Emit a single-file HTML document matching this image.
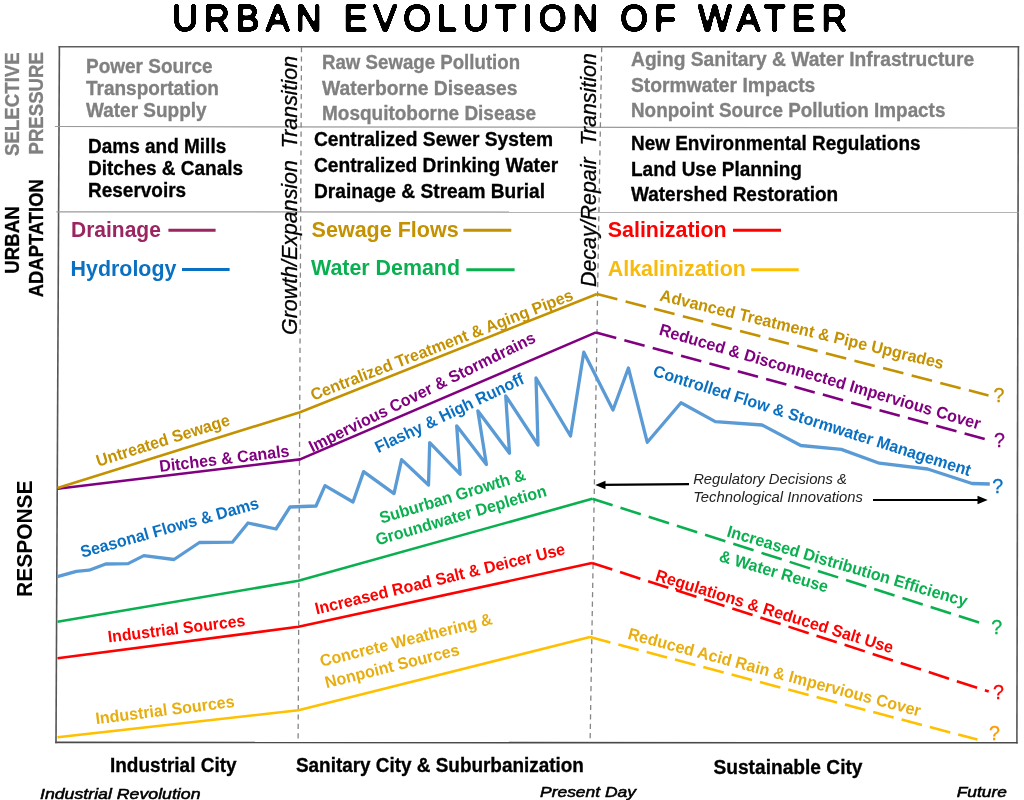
<!DOCTYPE html>
<html lang="en">
<head>
<meta charset="utf-8">
<title>Urban Evolution of Water</title>
<style>
  html, body { margin: 0; padding: 0; background: #ffffff; }
  body { width: 1024px; height: 800px; overflow: hidden; }
  svg { display: block; }
  text { font-family: "Liberation Sans", Arial, Helvetica, sans-serif; }
  .b { font-weight: bold; }
  .i { font-style: italic; }
  .tbl { font-size: 19px; font-weight: bold; stroke: #000; stroke-width: 0.3px; }
  .leg { font-size: 21px; font-weight: bold; }
  .lab { font-size: 16.05px; font-weight: bold; }
  .q { font-size: 19.6px; }
  .gray { fill: #808080; stroke: #808080; }
  .gold { fill: #c49100; }
  .purp { fill: #800080; }
  .blue { fill: #0a70c2; }
  .grn { fill: #0ab050; }
  .red { fill: #ff0000; }
  .yel { fill: #e8ae10; }
</style>
</head>
<body>
<svg width="1024" height="800" viewBox="0 0 1024 800">
  <rect x="0" y="0" width="1024" height="800" fill="#ffffff"/>

  <!-- title -->
  <defs>
    <filter id="rnd" x="-2%" y="-20%" width="104%" height="140%" color-interpolation-filters="sRGB">
      <feGaussianBlur in="SourceGraphic" stdDeviation="1.15" result="b"/>
      <feColorMatrix in="b" type="matrix" values="0 0 0 0 0  0 0 0 0 0  0 0 0 0 0  0 0 0 9 -4"/>
    </filter>
  </defs>
  <g id="title" filter="url(#rnd)">
    <text transform="translate(172.2,31.1) scale(1,1.045)" font-size="35.7" textLength="675" lengthAdjust="spacing" fill="#000" stroke="#000" stroke-width="1.7" stroke-linejoin="round">URBAN EVOLUTION OF WATER</text>
  </g>

  <!-- frame -->
  <g id="frame" fill="none" stroke-linecap="square">
    <line x1="59.4" y1="46.8" x2="1018.4" y2="46.8" stroke="#5e5e5e" stroke-width="1.6"/>
    <line x1="1018.4" y1="46.8" x2="1016.9" y2="742.8" stroke="#555" stroke-width="1.6"/>
    <line x1="56" y1="742.4" x2="1016.9" y2="742.8" stroke="#4a4a4a" stroke-width="1.6"/>
    <line x1="59.4" y1="46.8" x2="56" y2="742.4" stroke="#555" stroke-width="1.6"/>
    <line x1="55.5" y1="126.5" x2="1018.3" y2="128" stroke="#9a9a9a" stroke-width="1.2"/>
    <line x1="57" y1="211.9" x2="1018.1" y2="212.2" stroke="#9a9a9a" stroke-width="1.2"/>
    <line x1="301.5" y1="47" x2="298.1" y2="742" stroke="#858585" stroke-width="1.3" stroke-dasharray="5.2 4.2" stroke-linecap="butt"/>
    <line x1="601.7" y1="47" x2="590.1" y2="742" stroke="#858585" stroke-width="1.3" stroke-dasharray="5.2 4.2" stroke-linecap="butt"/>
  </g>

  <!-- left rotated headings -->
  <g id="side">
    <text class="tbl gray" style="font-size:19.6px" textLength="103.6" lengthAdjust="spacingAndGlyphs" transform="translate(18.8,155.9) rotate(-90)">SELECTIVE</text>
    <text class="tbl gray" style="font-size:19.6px" textLength="102.4" lengthAdjust="spacingAndGlyphs" transform="translate(42.8,154.5) rotate(-90)">PRESSURE</text>
    <text class="tbl" style="font-size:19.6px" textLength="67.3" lengthAdjust="spacingAndGlyphs" fill="#000" transform="translate(18.8,273.7) rotate(-90)">URBAN</text>
    <text class="tbl" style="font-size:19.6px" textLength="118.2" lengthAdjust="spacingAndGlyphs" fill="#000" transform="translate(42.8,297.3) rotate(-90)">ADAPTATION</text>
    <text class="b" font-size="21" fill="#000" transform="translate(31.8,597.0) rotate(-90) scale(1,1.04)">RESPONSE</text>
  </g>

  <!-- table text -->
  <g id="table" transform="translate(0,-0.4)">
    <text class="tbl gray" transform="translate(86,73) scale(1,1.055)">Power Source</text>
    <text class="tbl gray" transform="translate(86,95) scale(1,1.055)">Transportation</text>
    <text class="tbl gray" transform="translate(86,117) scale(1,1.055)">Water Supply</text>
    <text class="tbl" transform="translate(88,153.5) scale(1,1.055)">Dams and Mills</text>
    <text class="tbl" transform="translate(88,175.5) scale(1,1.055)">Ditches &amp; Canals</text>
    <text class="tbl" transform="translate(88,197.5) scale(1,1.055)">Reservoirs</text>

    <text class="tbl gray" transform="translate(322,69) scale(1,1.055)" textLength="198.1" lengthAdjust="spacingAndGlyphs">Raw Sewage Pollution</text>
    <text class="tbl gray" transform="translate(322,95) scale(1,1.055)" textLength="195.5" lengthAdjust="spacingAndGlyphs">Waterborne Diseases</text>
    <text class="tbl gray" transform="translate(322,120) scale(1,1.055)">Mosquitoborne Disease</text>
    <text class="tbl" transform="translate(314,146) scale(1,1.055)" textLength="239.1" lengthAdjust="spacingAndGlyphs">Centralized Sewer System</text>
    <text class="tbl" transform="translate(314,172.5) scale(1,1.055)" textLength="244.1" lengthAdjust="spacingAndGlyphs">Centralized Drinking Water</text>
    <text class="tbl" transform="translate(314,198) scale(1,1.055)" textLength="231.1" lengthAdjust="spacingAndGlyphs">Drainage &amp; Stream Burial</text>

    <text class="tbl gray" transform="translate(631,66.5) scale(1,1.055)" textLength="343.2" lengthAdjust="spacingAndGlyphs">Aging Sanitary &amp; Water Infrastructure</text>
    <text class="tbl gray" transform="translate(631,92) scale(1,1.055)" textLength="184.3" lengthAdjust="spacingAndGlyphs">Stormwater Impacts</text>
    <text class="tbl gray" transform="translate(631,117.3) scale(1,1.055)" textLength="314.4" lengthAdjust="spacingAndGlyphs">Nonpoint Source Pollution Impacts</text>
    <text class="tbl" transform="translate(631,150.5) scale(1,1.055)" textLength="289.5" lengthAdjust="spacingAndGlyphs">New Environmental Regulations</text>
    <text class="tbl" transform="translate(631,176.6) scale(1,1.055)">Land Use Planning</text>
    <text class="tbl" transform="translate(631,201.3) scale(1,1.055)">Watershed Restoration</text>
  </g>

  <!-- transitions -->
  <g id="trans" font-size="21" class="i" fill="#000">
    <text class="i" font-size="21.4" stroke="#000" stroke-width="0.3" transform="translate(296.8,334.9) rotate(-90)" xml:space="preserve">Growth/Expansion  Transition</text>
    <text class="i" font-size="21.4" stroke="#000" stroke-width="0.3" transform="translate(595.8,287) rotate(-90)" xml:space="preserve">Decay/Repair  Transition</text>
  </g>

  <!-- legend -->
  <g id="legend">
    <text class="leg" transform="translate(71,236.7) scale(1,1.05)" fill="#9a2560">Drainage</text>
    <line x1="168.4" y1="230.3" x2="215.6" y2="230.3" stroke="#9a2560" stroke-width="3"/>
    <text class="leg blue" transform="translate(70.6,275.6) scale(1,1.05)" textLength="105.8" lengthAdjust="spacingAndGlyphs">Hydrology</text>
    <line x1="182" y1="269.5" x2="229.6" y2="269.5" stroke="#0a70c2" stroke-width="3"/>
    <text class="leg gold" transform="translate(311.6,236.7) scale(1,1.05)" textLength="147" lengthAdjust="spacingAndGlyphs">Sewage Flows</text>
    <line x1="463.4" y1="230.3" x2="511.3" y2="230.3" stroke="#c49100" stroke-width="3"/>
    <text class="leg grn" transform="translate(311,275) scale(1,1.05)" textLength="149" lengthAdjust="spacingAndGlyphs">Water Demand</text>
    <line x1="466.3" y1="269.7" x2="514.6" y2="269.7" stroke="#0ab050" stroke-width="3"/>
    <text class="leg red" transform="translate(607.8,236.7) scale(1,1.05)" textLength="118.8" lengthAdjust="spacingAndGlyphs">Salinization</text>
    <line x1="733" y1="230.3" x2="781" y2="230.3" stroke="#ff0000" stroke-width="3"/>
    <text class="leg" transform="translate(607.8,275.5) scale(1,1.05)" fill="#f7bb0c" textLength="138" lengthAdjust="spacingAndGlyphs">Alkalinization</text>
    <line x1="751.2" y1="269.7" x2="798.7" y2="269.7" stroke="#ffc000" stroke-width="3"/>
  </g>

  <!-- chart lines -->
  <g id="lines" fill="none" stroke-width="2.6" stroke-linejoin="round">
    <polyline stroke="#ffc000" points="57.5,737.3 298.4,710.3 590,637"/>
    <line stroke="#ffc000" x1="590" y1="637" x2="977.4" y2="739.6" stroke-dasharray="21.1 8.2"/>
    <polyline stroke="#ff0000" points="57.5,658.3 298.4,626.8 592,563"/>
    <line stroke="#ff0000" x1="592" y1="563" x2="988.7" y2="691.5" stroke-dasharray="21.3 8.2"/>
    <polyline stroke="#0ab050" points="57.5,621.7 298.4,580.8 592.3,498.8"/>
    <line stroke="#0ab050" x1="592.3" y1="498.8" x2="979.3" y2="622.5" stroke-dasharray="21.3 8.3"/>
    <polyline stroke="#5b9bd5" stroke-width="3.3" stroke-linejoin="round" points="57.4,576.7 76.4,571.4 89.1,570.2 105.7,564 128.1,563.6 143.8,555.6 174,559.5 199.4,542.5 232.4,542.2 248,523 276,529 290,507 316,506 325,485.6 353,502 363.6,471.6 394,493.6 401.6,459.6 428.5,485 429.7,442.6 460.1,474.2 456.7,425.8 486.4,464.4 477.8,410.8 509.5,453.2 505.7,395.8 538,445 536,378 570.5,436 583.8,352.2 613,410 628.4,368 647.3,442.3 681,402.7 715.3,421.6 762,425 800.8,445.5 841.3,449.4 879.3,463.2 927.6,469 972,483.5 989.8,484"/>
    <polyline stroke="#800080" points="57.5,488.8 300,459.4 596,332.4"/>
    <line stroke="#800080" x1="596" y1="332.4" x2="984.7" y2="439" stroke-dasharray="21 8.4"/>
    <polyline stroke="#c49100" points="57.5,488 300,412.2 597,294"/>
    <line stroke="#c49100" x1="597" y1="294" x2="988.5" y2="395.4" stroke-dasharray="21 8.55"/>
  </g>

  <!-- arrows -->
  <g id="arrows" stroke="#000" stroke-width="2.2" fill="#000">
    <line x1="601" y1="484.9" x2="689" y2="484.2"/>
    <polygon points="595.3,485 605.5,480.8 605.5,489.2" stroke="none"/>
    <line x1="873" y1="500" x2="981" y2="500"/>
    <polygon points="987.7,500 977.5,495.8 977.5,504.2" stroke="none"/>
    <text class="i" font-size="14.8" x="693.2" y="483.8" fill="#222" stroke="none">Regulatory Decisions &amp;</text>
    <text class="i" font-size="14.8" x="693.2" y="501.8" fill="#222" stroke="none">Technological Innovations</text>
  </g>

  <!-- line labels -->
  <g id="labels">
    <text class="lab gold" transform="translate(98.3,466.7) rotate(-17.5) scale(1,1.04)">Untreated Sewage</text>
    <text class="lab purp" transform="translate(159.9,472.1) rotate(-6.9) scale(1,1.04)">Ditches &amp; Canals</text>
    <text class="lab blue" transform="translate(82.2,557.8) rotate(-15.6) scale(1,1.04)">Seasonal Flows &amp; Dams</text>
    <text class="lab red" style="font-size:15.85px" transform="translate(108.5,642.5) rotate(-6.9) scale(1,1.04)">Industrial Sources</text>
    <text class="lab yel" transform="translate(96.2,724.2) rotate(-7.1) scale(1,1.04)">Industrial Sources</text>

    <text class="lab gold" transform="translate(313.2,400.7) rotate(-21.2) scale(1,1.04)">Centralized Treatment &amp; Aging Pipes</text>
    <text class="lab purp" transform="translate(312.3,452.6) rotate(-26.3) scale(1,1.04)">Impervious Cover &amp; Stormdrains</text>
    <text class="lab blue" transform="translate(378.2,453.2) rotate(-25.5) scale(1,1.04)">Flashy &amp; High Runoff</text>
    <text class="lab grn" transform="translate(381.6,523.7) rotate(-16.9) scale(1,1.04)">Suburban Growth &amp;</text>
    <text class="lab grn" transform="translate(377.4,545.6) rotate(-16.3) scale(1,1.04)">Groundwater Depletion</text>
    <text class="lab red" transform="translate(316.5,614.6) rotate(-13.6) scale(1,1.04)">Increased Road Salt &amp; Deicer Use</text>
    <text class="lab yel" transform="translate(321.6,666.8) rotate(-14) scale(1,1.04)">Concrete Weathering &amp;</text>
    <text class="lab yel" transform="translate(326.4,688.2) rotate(-14) scale(1,1.04)">Nonpoint Sources</text>

    <text class="lab gold" style="font-size:16.1px" transform="translate(659.1,300.5) rotate(13.6) scale(1,1.04)">Advanced Treatment &amp; Pipe Upgrades</text>
    <text class="lab purp" style="font-size:16.1px" transform="translate(658.2,334.6) rotate(16.5) scale(1,1.04)">Reduced &amp; Disconnected Impervious Cover</text>
    <text class="lab blue" style="font-size:16.05px" transform="translate(652.1,375.7) rotate(17.6) scale(1,1.04)">Controlled Flow &amp; Stormwater Management</text>
    <text class="lab grn" transform="translate(726.1,536.3) rotate(16.4) scale(1,1.04)" style="font-size:16.05px">Increased Distribution Efficiency</text>
    <text class="lab grn" transform="translate(718.2,561.0) rotate(16.2) scale(1,1.04)">&amp; Water Reuse</text>
    <text class="lab red" transform="translate(654.6,580.2) rotate(17.2) scale(1,1.04)" style="font-size:16.05px">Regulations &amp; Reduced Salt Use</text>
    <text class="lab yel" style="font-size:16.1px" transform="translate(626.9,638.8) rotate(14.9) scale(1,1.04)">Reduced Acid Rain &amp; Impervious Cover</text>
  </g>

  <!-- question marks -->
  <g id="qm" text-anchor="middle">
    <text class="q gold" x="998.9" y="401.8" stroke="#c49100" stroke-width="0.3">?</text>
    <text class="q purp" x="999.5" y="447.4" stroke="#800080" stroke-width="0.3">?</text>
    <text class="q blue" x="997.6" y="492.5" stroke="#0a70c2" stroke-width="0.3">?</text>
    <text class="q grn" x="996.6" y="634" stroke="#0ab050" stroke-width="0.3">?</text>
    <text class="q red" x="998.5" y="699.2" stroke="#ff0000" stroke-width="0.3">?</text>
    <text class="q" x="994.5" y="739.7" fill="#ff9900" stroke="#ff9900" stroke-width="0.3">?</text>
  </g>

  <!-- bottom axis labels -->
  <g id="axis">
    <text class="tbl" transform="translate(110,772.3) scale(1,1.055)">Industrial City</text>
    <text class="tbl" transform="translate(296,772.3) scale(1,1.055)" textLength="287.8" lengthAdjust="spacingAndGlyphs">Sanitary City &amp; Suburbanization</text>
    <text class="tbl" transform="translate(713.5,774) scale(1,1.055)" textLength="149" lengthAdjust="spacingAndGlyphs">Sustainable City</text>
    <text class="i" font-size="15.3" x="40" y="798.6" stroke="#000" stroke-width="0.55" textLength="160.5" lengthAdjust="spacingAndGlyphs">Industrial Revolution</text>
    <text class="i" font-size="15.3" x="540" y="797" stroke="#000" stroke-width="0.55" textLength="96" lengthAdjust="spacingAndGlyphs">Present Day</text>
    <text class="i" font-size="15.3" x="956.8" y="797" stroke="#000" stroke-width="0.55" textLength="50" lengthAdjust="spacingAndGlyphs">Future</text>
  </g>
</svg>
</body>
</html>
